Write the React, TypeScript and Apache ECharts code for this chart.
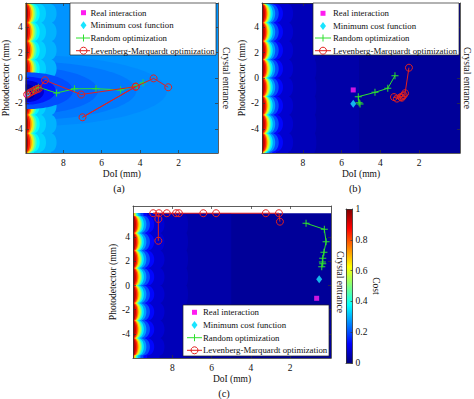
import { useEffect, useRef } from 'react';
import * as echarts from 'echarts';

// ---------------- data ----------------
const xTickValues = [2, 4, 6, 8];
const yTickValues = [-4, -2, 0, 2, 4];
const costTickValues = [0, 0.2, 0.4, 0.6, 0.8, 1];
const legendNames = ['Real interaction', 'Minimum cost function', 'Random optimization', 'Levenberg-Marquardt optimization'];
const panelLabels = ['(a)', '(b)', '(c)'];

// panel (a)
const realA = [[9.88, -1.3]];
const minCostA = [[9.84, -1.25]];
const randomA = [[9.55, -0.95], [9.42, -0.82], [9.3, -0.72], [8.35, -1.18], [7.42, -0.85], [6.3, -0.84], [5.02, -0.94], [4.2, -0.62], [3.85, -0.37]];
const lmA = [[2.54, -0.73], [3.3, -0.03], [4.23, -0.68], [7.0, -3.09], [4.23, -0.68], [7.07, -1.3], [8.95, -0.18], [9.28, -0.84], [9.38, -0.9], [9.48, -0.97], [9.58, -1.04], [9.68, -1.12], [9.78, -1.2], [9.88, -1.3]];

// panel (b)
const realB = [[5.4, -0.94]];
const minCostB = [[5.4, -2.02]];
const randomB = [[3.25, 0.18], [3.62, -0.81], [4.28, -1.13], [5.14, -1.47], [5.1, -1.94], [5.05, -2.05]];
const lmB = [[2.53, 0.81], [2.73, -1.2], [2.8, -1.35], [2.95, -1.5], [3.3, -1.5], [3.15, -1.62], [2.9, -1.55], [2.85, -1.42]];

// panel (c)
const realC = [[0.65, -1.05]];
const minCostC = [[0.52, 0.52]];
const randomC = [[1.19, 5.17], [0.26, 4.67], [0.17, 3.64], [0.28, 2.76], [0.34, 2.26], [0.36, 1.95], [0.34, 1.82], [0.39, 1.57]];
const lmC = [[8.71, 3.72], [8.71, 5.52], [8.68, 6.0], [8.97, 6.0], [8.28, 6.0], [7.81, 6.0], [7.66, 6.0], [6.42, 6.0], [5.77, 6.0], [3.24, 6.0], [2.57, 6.0], [2.52, 5.3]];

// cost field
const lobeCenters = [-5.075, -3.625, -2.175, -0.725, 0.725, 2.175, 3.625, 5.075];
const lobeHalfHeight = 0.725;
const backgroundCostA = [[0.27, 0]];
const backgroundCostBC = [[0.025, 0]];
// [cost, width at lobe centre (mm), width at lobe junction (mm)] measured from the left edge
const stripA = [[0.3, 1.6, 1.3], [0.33, 1.05, 0.75], [0.37, 0.72, 0.42], [0.45, 0.56, 0.3], [0.55, 0.46, 0.22], [0.65, 0.38, 0.16], [0.75, 0.3, 0.1], [0.85, 0.22, 0.05], [0.95, 0.12, 0.0]];
const stripBC = [[0.04, 5.0, 5.0], [0.055, 2.8, 2.7], [0.08, 1.6, 1.35], [0.13, 1.08, 0.72], [0.2, 0.86, 0.53], [0.28, 0.68, 0.38], [0.36, 0.55, 0.27], [0.45, 0.46, 0.2], [0.55, 0.4, 0.15], [0.65, 0.34, 0.1], [0.75, 0.28, 0.06], [0.85, 0.22, 0.03], [0.95, 0.14, 0.0]];
// [cost, centre x, centre y, radius x, radius y] of the basin bands in (a)
const basinOuterA = [[0.26, 9.9, -1.0, 7.3, 2.8], [0.245, 9.9, -1.0, 5.7, 2.3], [0.225, 9.9, -1.0, 3.7, 1.85]];
const basinInnerA = [[0.2, 9.9, -1.0, 2.4, 1.45], [0.15, 9.9, -1.0, 1.5, 1.1], [0.08, 9.9, -1.05, 0.9, 0.85], [0.03, 9.9, -1.1, 0.45, 0.6]];

const colorbarRange = [[0, 0, 1, 1]];

// ---------------- layout / style ----------------
const FONT = 'Liberation Serif';
const MAGENTA = '#ff1cf0';
const CYAN = '#18e4ff';
const GREEN = '#2ee02e';
const RED = '#e3211f';
const AXIS = '#333';

const panelLayouts = [
  { grid: { left: 20, top: 3, width: 198, height: 150 }, xMin: -0.05, xMax: 9.95, yMin: -5.9, yMax: 5.9, heatTop: 5.9, heatBottom: -5.9, leftGap: 10, rightGap: 2.5, label: [119, 188], legend: { box: [70, 3, 146, 52], sx: 83.5, lx0: 76, lx1: 90, tx: 90.5, ys: [12.7, 25.3, 38, 50.7] } },
  { grid: { left: 262, top: 3, width: 198, height: 150 }, xMin: -0.1, xMax: 10.1, yMin: -5.9, yMax: 5.9, heatTop: 5.9, heatBottom: -5.9, leftGap: 11.5, rightGap: 2, label: [355, 188], legend: { box: [313, 3, 146, 52], sx: 323, lx0: 315, lx1: 331, tx: 333, ys: [13.3, 26, 38, 50.7] } },
  { grid: { left: 133, top: 206, width: 198, height: 152 }, xMin: -0.08, xMax: 10, yMin: -6, yMax: 6.6, heatTop: 6, heatBottom: -6, leftGap: 10.5, rightGap: 3.5, label: [224, 393], legend: { box: [183, 305, 146, 51], sx: 194.5, lx0: 187, lx1: 202, tx: 203, ys: [312.3, 325, 337.7, 350.3] } },
];

const panelData = [
  { real: realA, min: minCostA, random: randomA, lm: lmA, bg: backgroundCostA, strip: stripA, outer: basinOuterA, inner: basinInnerA },
  { real: realB, min: minCostB, random: randomB, lm: lmB, bg: backgroundCostBC, strip: stripBC, outer: [], inner: [] },
  { real: realC, min: minCostC, random: randomC, lm: lmC, bg: backgroundCostBC, strip: stripBC, outer: [], inner: [] },
];

function jet(v: number): string {
  const c = (x: number) => Math.max(0, Math.min(1, x));
  const r = c(1.5 - Math.abs(4 * v - 3));
  const g = c(1.5 - Math.abs(4 * v - 2));
  const b = c(1.5 - Math.abs(4 * v - 1));
  return `rgb(${Math.round(r * 255)},${Math.round(g * 255)},${Math.round(b * 255)})`;
}

function clampPt(p: number[], cs: any): number[] {
  return [
    Math.min(Math.max(p[0], cs.x), cs.x + cs.width),
    Math.min(Math.max(p[1], cs.y), cs.y + cs.height),
  ];
}

function bgRenderer(p: any) {
  return (params: any, api: any) => {
    const cs = params.coordSys;
    const a = clampPt(api.coord([p.xMax, p.heatTop]), cs);
    const b = clampPt(api.coord([p.xMin, p.heatBottom]), cs);
    return {
      type: 'rect',
      shape: { x: Math.min(a[0], b[0]), y: Math.min(a[1], b[1]), width: Math.abs(b[0] - a[0]), height: Math.abs(b[1] - a[1]) },
      style: { fill: jet(api.value(0)) },
    };
  };
}

function stripRenderer(p: any) {
  return (params: any, api: any) => {
    const cs = params.coordSys;
    const cost = api.value(0), wL = api.value(1), wP = api.value(2);
    const pts: number[][] = [];
    const n = 300;
    for (let i = 0; i <= n; i++) {
      const y = p.heatTop - ((p.heatTop - p.heatBottom) * i) / n;
      let best = lobeCenters[0];
      for (const c of lobeCenters) if (Math.abs(y - c) < Math.abs(y - best)) best = c;
      const t = Math.min(1, Math.abs(y - best) / lobeHalfHeight);
      const w = wP + (wL - wP) * Math.sqrt(1 - t * t);
      pts.push(clampPt(api.coord([p.xMax - w, y]), cs));
    }
    pts.push(clampPt(api.coord([p.xMax, p.heatBottom]), cs));
    pts.push(clampPt(api.coord([p.xMax, p.heatTop]), cs));
    return { type: 'polygon', shape: { points: pts }, style: { fill: jet(cost) } };
  };
}

function basinRenderer() {
  return (params: any, api: any) => {
    const cs = params.coordSys;
    const cost = api.value(0), cx = api.value(1), cy = api.value(2), rx = api.value(3), ry = api.value(4);
    const pts: number[][] = [];
    for (let i = 0; i < 120; i++) {
      const a = (i / 120) * Math.PI * 2;
      pts.push(clampPt(api.coord([cx + rx * Math.cos(a), cy + ry * Math.sin(a)]), cs));
    }
    return { type: 'polygon', shape: { points: pts }, style: { fill: jet(cost) } };
  };
}

function colorbarRenderer() {
  return (params: any, api: any) => {
    const a = api.coord([api.value(0), api.value(3)]);
    const b = api.coord([api.value(2), api.value(1)]);
    const stops = [1, 0.875, 0.625, 0.375, 0.125, 0].map((v) => ({ offset: 1 - v, color: jet(v) }));
    return {
      type: 'rect',
      shape: { x: a[0], y: a[1], width: b[0] - a[0], height: b[1] - a[1] },
      style: { fill: new echarts.graphic.LinearGradient(0, 0, 0, 1, stops) },
    };
  };
}

const tickLabelStyle = { fontSize: 9.5, fontFamily: FONT, color: '#111' };

function xAxisDef(gi: number, p: any, side: string) {
  const bottom = side === 'bottom';
  return {
    type: 'value', gridIndex: gi, position: side, inverse: true, min: p.xMin, max: p.xMax,
    name: bottom ? 'DoI (mm)' : '', nameLocation: 'middle', nameGap: 15,
    nameTextStyle: { fontSize: 9.5, fontFamily: FONT, color: '#111' },
    axisLine: { show: true, onZero: false, lineStyle: { color: AXIS, width: 0.8 } },
    axisTick: { show: true, inside: true, length: 3, customValues: xTickValues, lineStyle: { color: AXIS, width: 0.7 } },
    axisLabel: { show: bottom, customValues: xTickValues, margin: 5, ...tickLabelStyle },
    splitLine: { show: false }, z: 10,
  };
}

function yAxisDef(gi: number, p: any, side: string) {
  const left = side === 'left';
  return {
    type: 'value', gridIndex: gi, position: side, min: p.yMin, max: p.yMax,
    name: left ? 'Photodetector (mm)' : 'Crystal entrance', nameLocation: 'middle',
    nameGap: left ? p.leftGap : p.rightGap, nameRotate: left ? 90 : -90,
    nameTextStyle: { fontSize: 9.5, fontFamily: FONT, color: '#111' },
    axisLine: { show: true, onZero: false, lineStyle: { color: AXIS, width: 0.8 } },
    axisTick: { show: true, inside: true, length: 3, customValues: yTickValues, lineStyle: { color: AXIS, width: 0.7 } },
    axisLabel: { show: left, customValues: yTickValues, margin: 3, ...tickLabelStyle },
    splitLine: { show: false }, z: 10,
  };
}

function legendGroup(lg: any) {
  const [bx, by, bw, bh] = lg.box;
  const { sx, lx0, lx1, tx, ys } = lg;
  const z = 50;
  const children: any[] = [
    { type: 'rect', z, shape: { x: bx, y: by, width: bw, height: bh }, style: { fill: '#fff', stroke: '#222', lineWidth: 0.7 } },
    { type: 'rect', z, shape: { x: sx - 2.5, y: ys[0] - 2.5, width: 5, height: 5 }, style: { fill: MAGENTA } },
    { type: 'polygon', z, shape: { points: [[sx, ys[1] - 4], [sx + 3, ys[1]], [sx, ys[1] + 4], [sx - 3, ys[1]]] }, style: { fill: CYAN } },
    { type: 'line', z, shape: { x1: lx0, y1: ys[2], x2: lx1, y2: ys[2] }, style: { stroke: GREEN, lineWidth: 1 } },
    { type: 'line', z, shape: { x1: sx, y1: ys[2] - 3.5, x2: sx, y2: ys[2] + 3.5 }, style: { stroke: GREEN, lineWidth: 1 } },
    { type: 'line', z, shape: { x1: lx0, y1: ys[3], x2: lx1, y2: ys[3] }, style: { stroke: RED, lineWidth: 1 } },
    { type: 'circle', z, shape: { cx: sx, cy: ys[3], r: 3.5 }, style: { fill: 'none', stroke: RED, lineWidth: 1 } },
  ];
  legendNames.forEach((name, i) => {
    children.push({
      type: 'text', z,
      style: { text: name, x: tx, y: ys[i], fontSize: 8.8, fontFamily: FONT, fill: '#111', align: 'left', verticalAlign: 'middle', textAlign: 'left', textVerticalAlign: 'middle' },
    });
  });
  return { type: 'group', children };
}

const plusSymbol = 'path://M4.3,0H5.7V4.3H10V5.7H5.7V10H4.3V5.7H0V4.3H4.3Z';

function buildOption() {
  const grid: any[] = [];
  const xAxis: any[] = [];
  const yAxis: any[] = [];
  const series: any[] = [];
  const graphic: any[] = [];

  panelLayouts.forEach((p, i) => {
    const d = panelData[i];
    grid.push({ ...p.grid });
    xAxis.push(xAxisDef(i, p, 'bottom'), xAxisDef(i, p, 'top'));
    yAxis.push(yAxisDef(i, p, 'left'), yAxisDef(i, p, 'right'));
    const ax = { xAxisIndex: 2 * i, yAxisIndex: 2 * i };
    series.push({ type: 'custom', ...ax, z: 1, silent: true, data: d.bg, renderItem: bgRenderer(p) });
    if (d.outer.length) series.push({ type: 'custom', ...ax, z: 2, silent: true, data: d.outer, renderItem: basinRenderer() });
    series.push({ type: 'custom', ...ax, z: 3, silent: true, data: d.strip, renderItem: stripRenderer(p) });
    if (d.inner.length) series.push({ type: 'custom', ...ax, z: 4, silent: true, data: d.inner, renderItem: basinRenderer() });
    series.push({ type: 'scatter', name: legendNames[0], ...ax, z: 5, data: d.real, symbol: 'rect', symbolSize: 5, itemStyle: { color: MAGENTA } });
    series.push({ type: 'scatter', name: legendNames[1], ...ax, z: 5, data: d.min, symbol: 'diamond', symbolSize: [6, 8], itemStyle: { color: CYAN } });
    series.push({ type: 'line', name: legendNames[2], ...ax, z: 6, data: d.random, symbol: plusSymbol, symbolSize: 7, showSymbol: true, itemStyle: { color: GREEN }, lineStyle: { color: GREEN, width: 1 } });
    series.push({ type: 'line', name: legendNames[3], ...ax, z: 7, data: d.lm, symbol: 'circle', symbolSize: 7, showSymbol: true, itemStyle: { color: 'rgba(0,0,0,0)', borderColor: RED, borderWidth: 1 }, lineStyle: { color: RED, width: 1 } });
    graphic.push(legendGroup(p.legend));
    graphic.push({ type: 'text', z: 50, style: { text: panelLabels[i], x: p.label[0], y: p.label[1], fontSize: 10.5, fontFamily: FONT, fill: '#111', align: 'center', verticalAlign: 'middle', textAlign: 'center', textVerticalAlign: 'middle' } });
  });

  // colorbar
  grid.push({ left: 346, top: 209, width: 6.5, height: 154 });
  const cbLine = { show: true, onZero: false, lineStyle: { color: AXIS, width: 0.8 } };
  xAxis.push({ type: 'value', gridIndex: 3, position: 'bottom', min: 0, max: 1, axisLine: cbLine, axisTick: { show: false }, axisLabel: { show: false }, splitLine: { show: false }, z: 10 });
  xAxis.push({ type: 'value', gridIndex: 3, position: 'top', min: 0, max: 1, axisLine: cbLine, axisTick: { show: false }, axisLabel: { show: false }, splitLine: { show: false }, z: 10 });
  yAxis.push({ type: 'value', gridIndex: 3, position: 'left', min: 0, max: 1, axisLine: cbLine, axisTick: { show: false }, axisLabel: { show: false }, splitLine: { show: false }, z: 10 });
  yAxis.push({
    type: 'value', gridIndex: 3, position: 'right', min: 0, max: 1, name: 'Cost', nameLocation: 'middle', nameGap: 12, nameRotate: -90,
    nameTextStyle: { fontSize: 9.5, fontFamily: FONT, color: '#111' },
    axisLine: cbLine, axisTick: { show: true, inside: true, length: 2, customValues: costTickValues, lineStyle: { color: AXIS, width: 0.7 } },
    axisLabel: { customValues: costTickValues, margin: 3, ...tickLabelStyle }, splitLine: { show: false }, z: 10,
  });
  series.push({ type: 'custom', xAxisIndex: 6, yAxisIndex: 6, z: 1, silent: true, data: colorbarRange, renderItem: colorbarRenderer() });

  return {
    animation: false,
    backgroundColor: '#fff',
    textStyle: { fontFamily: FONT },
    grid, xAxis, yAxis, series, graphic,
  };
}

export default function App() {
  const ref = useRef<HTMLDivElement>(null);
  useEffect(() => {
    const chart = echarts.init(ref.current!, undefined, { renderer: 'svg', width: 474, height: 399 });
    chart.setOption(buildOption() as any);
    return () => chart.dispose();
  }, []);
  return <div ref={ref} style={{ position: 'absolute', left: 0, top: 0, width: 474, height: 399, background: '#fff' }} />;
}
